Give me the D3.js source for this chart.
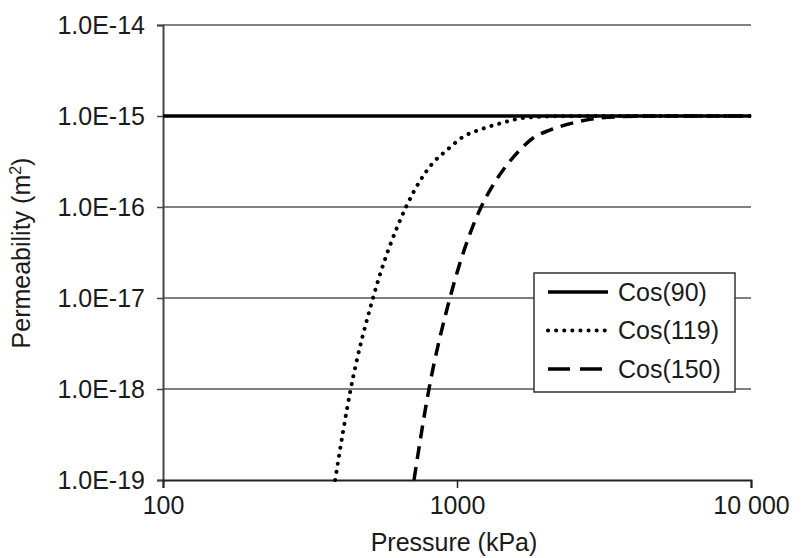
<!DOCTYPE html>
<html>
<head>
<meta charset="utf-8">
<script src="https://cdn.jsdelivr.net/npm/d3@7"></script>
<style>
  body { margin: 0; background: #fff; }
  svg text { font-family: "Liberation Sans", Arial, sans-serif; fill: #1a1a1a; }
</style>
</head>
<body>
<div id="chart"></div>
<script>
// axis ticks
const xTicks = [100, 1000, 10000];
const xTickLabels = ["100", "1000", "10 000"];
const yTicks = [1e-19, 1e-18, 1e-17, 1e-16, 1e-15, 1e-14];

// series (pressure kPa, permeability m2)
const cos90P = [100, 10000];
const cos90K = [1e-15, 1e-15];

const cos119P = [385, 435, 518, 671, 748, 828, 925, 1047, 1216, 1422, 1676, 2240, 4000, 10000];
const cos119K = [1e-19, 1e-18, 1e-17, 1e-16, 1.93e-16, 3.05e-16, 4.23e-16, 5.88e-16, 7.2e-16, 8.4e-16, 9.5e-16, 9.95e-16, 1e-15, 1e-15];

const cos150P = [714, 803, 946, 1208, 1315, 1479, 1637, 1814, 2071, 2483, 2903, 3502, 5000, 10000];
const cos150K = [1e-19, 1e-18, 1e-17, 1e-16, 1.66e-16, 2.9e-16, 4.23e-16, 5.73e-16, 7.0e-16, 8.4e-16, 9.3e-16, 9.8e-16, 1e-15, 1e-15];

const seriesNames = ["Cos(90)", "Cos(119)", "Cos(150)"];

const width = 810, height = 558;
const margin = { top: 25, right: 59, bottom: 78, left: 163 };
const w = width - margin.left - margin.right;
const h = height - margin.top - margin.bottom;

const svg = d3.select("#chart").append("svg")
  .attr("width", width)
  .attr("height", height);

const g = svg.append("g").attr("transform", `translate(${margin.left},${margin.top})`);

const x = d3.scaleLog().domain([100, 10000]).range([0, w]);
const y = d3.scaleLog().domain([1e-19, 1e-14]).range([h, 0]);

// horizontal grid lines
g.append("g")
  .selectAll("line")
  .data(yTicks.slice(1))
  .join("line")
  .attr("x1", 0)
  .attr("x2", w)
  .attr("y1", d => y(d))
  .attr("y2", d => y(d))
  .attr("stroke", "#808080")
  .attr("stroke-width", 2);

// y axis
const yAxis = g.append("g")
  .call(d3.axisLeft(y).tickValues(yTicks).tickSize(6).tickPadding(12)
    .tickFormat(d => "1.0E" + Math.round(Math.log10(d))));
yAxis.select(".domain").attr("stroke", "#444").attr("stroke-width", 2);
yAxis.selectAll(".tick line").attr("stroke", "#444").attr("stroke-width", 1.5);
yAxis.selectAll("text").style("font-size", "25px").attr("fill", "#1a1a1a");

// x axis
const xAxis = g.append("g")
  .attr("transform", `translate(0,${h})`)
  .call(d3.axisBottom(x).tickValues(xTicks).tickSize(8).tickPadding(8)
    .tickFormat((d, i) => xTickLabels[i]));
xAxis.select(".domain").attr("stroke", "#222").attr("stroke-width", 2);
xAxis.selectAll(".tick line").attr("stroke", "#222").attr("stroke-width", 1.5);
xAxis.selectAll("text").style("font-size", "25px").attr("fill", "#1a1a1a");

// lines
const line = d3.line()
  .x(d => x(d[0]))
  .y(d => y(d[1]))
  .curve(d3.curveMonotoneX);

const styles = [
  { width: 3.5, dash: null, cap: "butt" },
  { width: 4, dash: "0.1 8", cap: "round" },
  { width: 3.5, dash: "13 8", cap: "butt" }
];

const series = [
  d3.zip(cos90P, cos90K),
  d3.zip(cos119P, cos119K),
  d3.zip(cos150P, cos150K)
];

series.forEach((s, i) => {
  g.append("path")
    .datum(s)
    .attr("d", line)
    .attr("fill", "none")
    .attr("stroke", "#000")
    .attr("stroke-width", styles[i].width)
    .attr("stroke-linecap", styles[i].cap)
    .attr("stroke-dasharray", styles[i].dash);
});

// legend
const legend = svg.append("g").attr("transform", "translate(534,273)");
legend.append("rect")
  .attr("width", 201)
  .attr("height", 119)
  .attr("fill", "#fff")
  .attr("stroke", "#333")
  .attr("stroke-width", 1.5);

seriesNames.forEach((name, i) => {
  const ly = 19 + i * 38.5;
  legend.append("line")
    .attr("x1", 14).attr("x2", 74)
    .attr("y1", ly).attr("y2", ly)
    .attr("stroke", "#000")
    .attr("stroke-width", styles[i].width)
    .attr("stroke-linecap", styles[i].cap)
    .attr("stroke-dasharray", i === 2 ? "22 10" : styles[i].dash);
  legend.append("text")
    .attr("x", 84)
    .attr("y", ly)
    .attr("dy", "0.35em")
    .style("font-size", "25px")
    .text(name);
});

// axis titles
svg.append("text")
  .attr("x", margin.left + w / 2 - 3)
  .attr("y", 551)
  .attr("text-anchor", "middle")
  .style("font-size", "25px")
  .text("Pressure (kPa)");

const yt = svg.append("text")
  .attr("transform", "translate(30,253) rotate(-90)")
  .attr("text-anchor", "middle")
  .style("font-size", "25px");
yt.append("tspan").text("Permeability (m");
yt.append("tspan").attr("dy", "-9").style("font-size", "16px").text("2");
yt.append("tspan").attr("dy", "9").text(")");
</script>
</body>
</html>
